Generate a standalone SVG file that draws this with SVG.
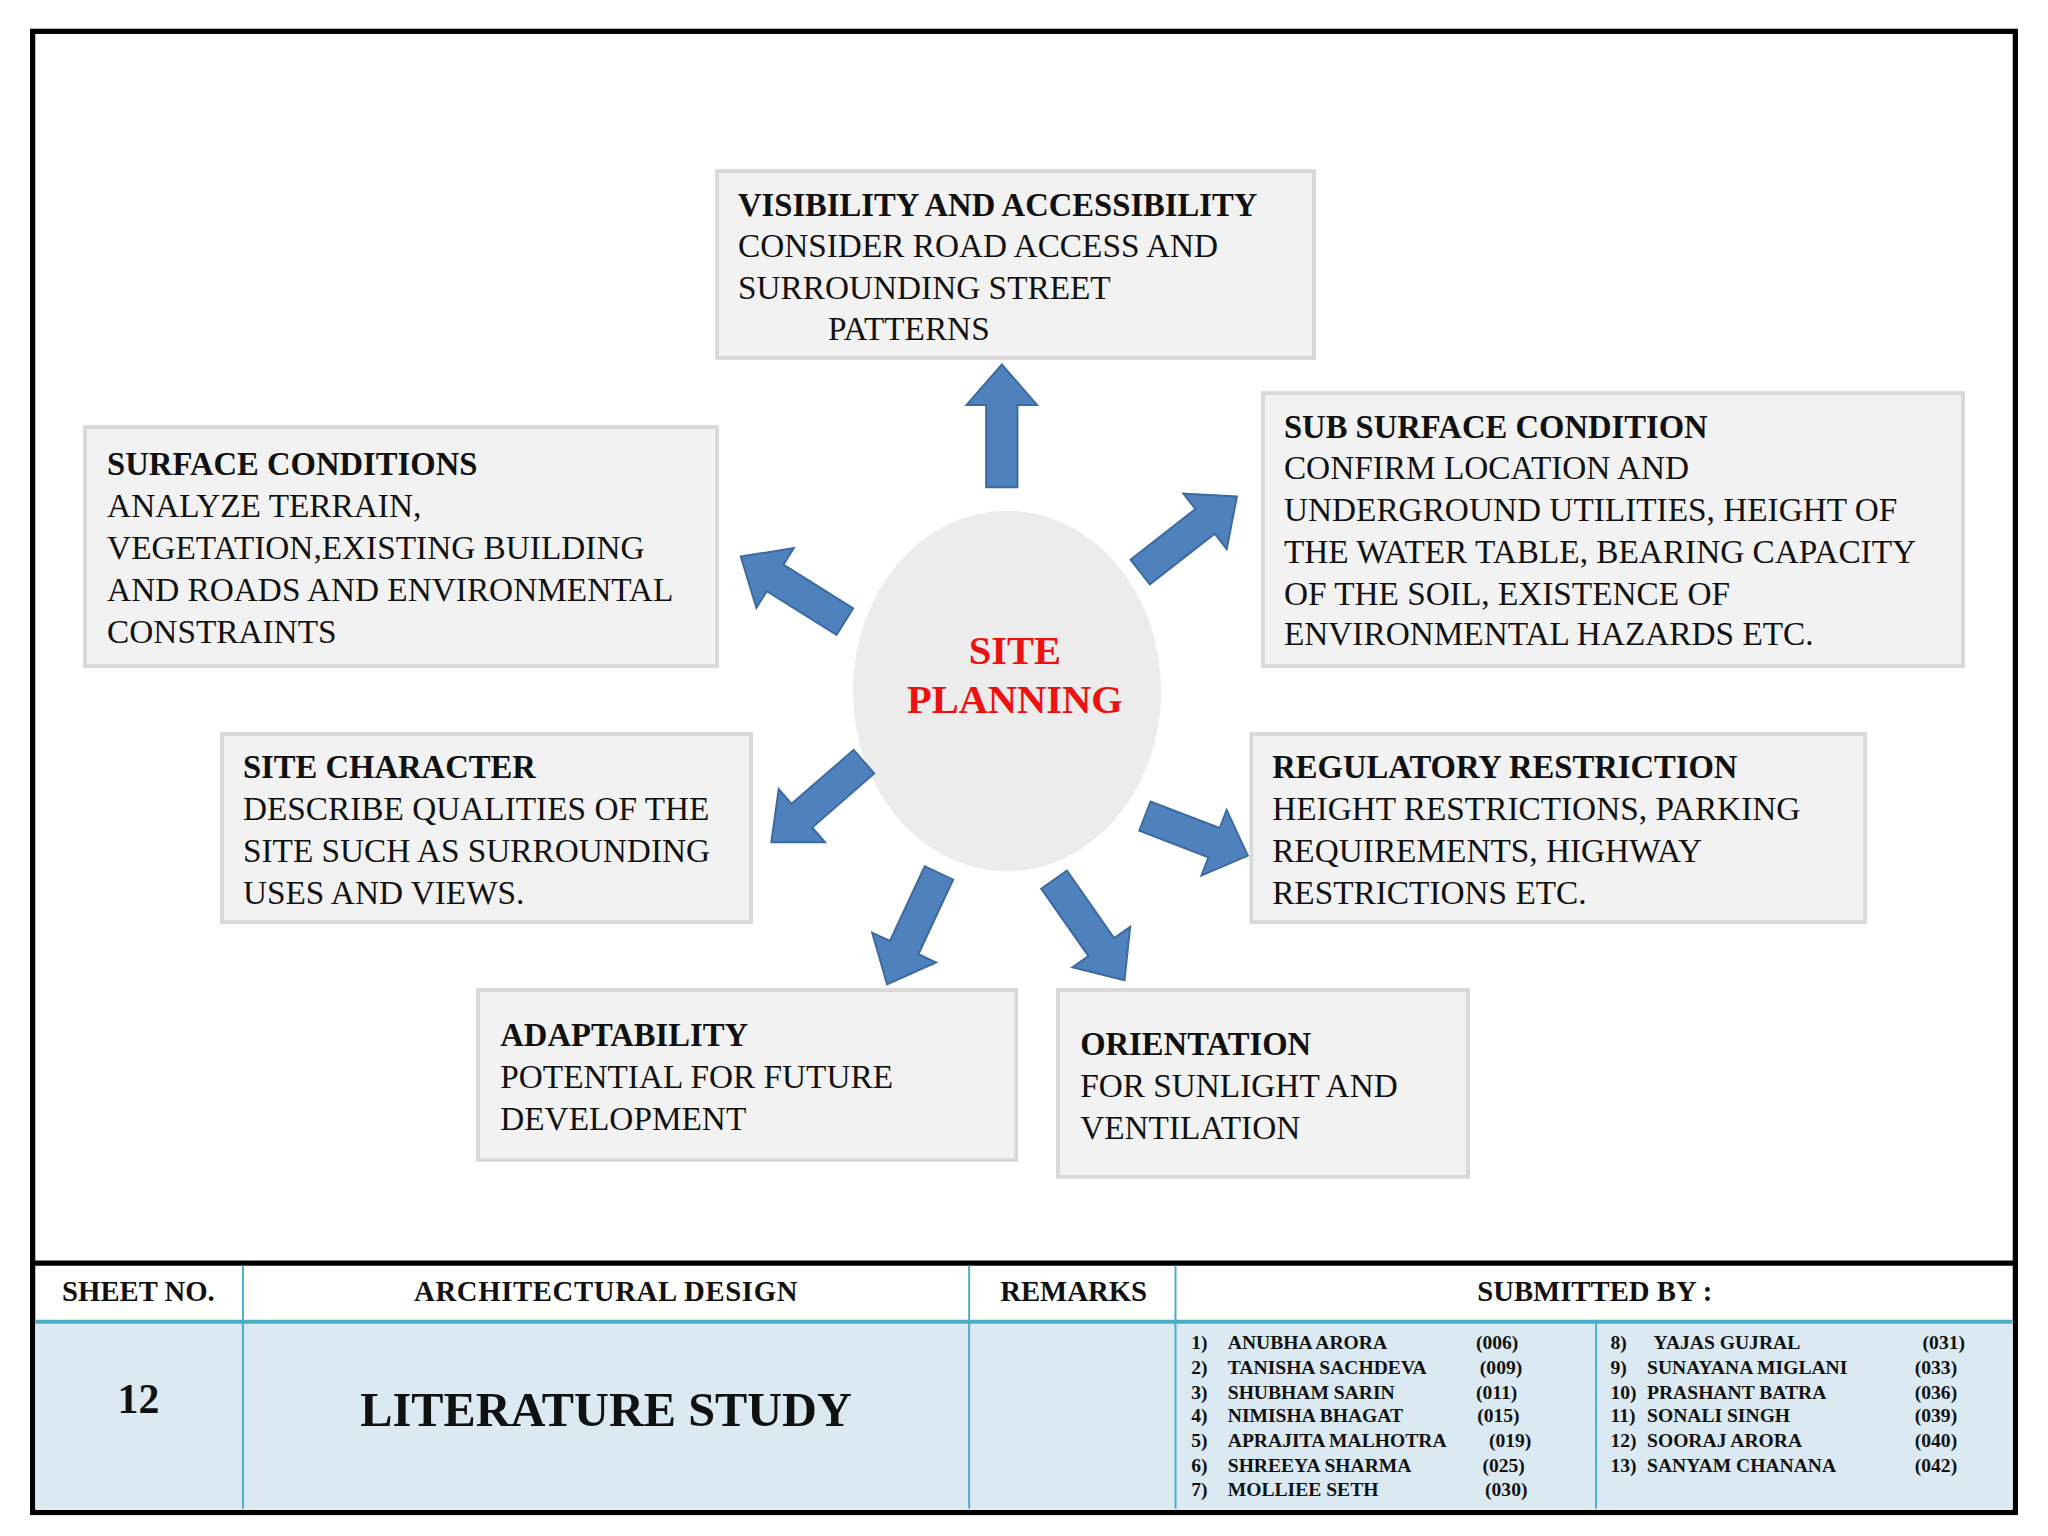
<svg xmlns="http://www.w3.org/2000/svg" xmlns:xlink="http://www.w3.org/1999/xlink" width="2048" height="1536" viewBox="0 0 2048 1536">
<style>
.box{fill:#f2f2f2;stroke:#d9d9d9;stroke-width:3}
.t{font-family:"Liberation Serif",serif;font-size:25.5px;fill:#111}
.h{font-weight:bold;font-size:25px}
.th{font-family:"Liberation Serif",serif;font-size:22px;font-weight:bold;fill:#111;text-anchor:middle}
.n{font-family:"Liberation Serif",serif;font-size:15px;font-weight:bold;fill:#111}
.arr{fill:#4f81bd;stroke:#3b6aa3;stroke-width:1.5}
</style>
<defs>
<polygon id="ar" points="0,-47 27,-16 12,-16 12,47 -12,47 -12,-16 -27,-16"/>
</defs>
<rect width="2048" height="1536" fill="#fff"/>
<g transform="scale(1.30612)">
<rect x="25" y="24" width="1518" height="1134" fill="#fff" stroke="#000" stroke-width="4"/>
<g id="table">
<rect x="27" y="1012" width="1514" height="143" fill="#dbeaf2"/>
<line x1="25" y1="967" x2="1543" y2="967" stroke="#000" stroke-width="4"/>
<line x1="27" y1="1012" x2="1541" y2="1012" stroke="#4bacc6" stroke-width="3"/>
<g stroke="#4bacc6" stroke-width="1.5">
<line x1="186" y1="969" x2="186" y2="1155"/><line x1="742" y1="969" x2="742" y2="1155"/><line x1="900" y1="969" x2="900" y2="1155"/><line x1="1222" y1="1013" x2="1222" y2="1155"/>
</g>
<text class="th" x="106" y="996">SHEET NO.</text>
<text class="th" x="464" y="996" style="letter-spacing:0.5px">ARCHITECTURAL DESIGN</text>
<text class="th" x="822" y="996">REMARKS</text>
<text class="th" x="1221" y="996">SUBMITTED BY :</text>
<text class="th" x="106" y="1082" style="font-size:32px">12</text>
<text class="th" x="464" y="1092" style="font-size:37px">LITERATURE STUDY</text>
<g class="n">
<text x="912" y="1033">1)</text><text x="940" y="1033">ANUBHA ARORA</text><text x="1130" y="1033">(006)</text>
<text x="912" y="1052">2)</text><text x="940" y="1052">TANISHA SACHDEVA</text><text x="1133" y="1052">(009)</text>
<text x="912" y="1071">3)</text><text x="940" y="1071">SHUBHAM SARIN</text><text x="1130" y="1071">(011)</text>
<text x="912" y="1089">4)</text><text x="940" y="1089">NIMISHA BHAGAT</text><text x="1131" y="1089">(015)</text>
<text x="912" y="1108">5)</text><text x="940" y="1108">APRAJITA MALHOTRA</text><text x="1140" y="1108">(019)</text>
<text x="912" y="1127">6)</text><text x="940" y="1127">SHREEYA SHARMA</text><text x="1135" y="1127">(025)</text>
<text x="912" y="1145">7)</text><text x="940" y="1145">MOLLIEE SETH</text><text x="1137" y="1145">(030)</text>
<text x="1233" y="1033">8)</text><text x="1266" y="1033">YAJAS GUJRAL</text><text x="1472" y="1033">(031)</text>
<text x="1233" y="1052">9)</text><text x="1261" y="1052">SUNAYANA MIGLANI</text><text x="1466" y="1052">(033)</text>
<text x="1233" y="1071">10)</text><text x="1261" y="1071">PRASHANT BATRA</text><text x="1466" y="1071">(036)</text>
<text x="1233" y="1089">11)</text><text x="1261" y="1089">SONALI SINGH</text><text x="1466" y="1089">(039)</text>
<text x="1233" y="1108">12)</text><text x="1261" y="1108">SOORAJ ARORA</text><text x="1466" y="1108">(040)</text>
<text x="1233" y="1127">13)</text><text x="1261" y="1127">SANYAM CHANANA</text><text x="1466" y="1127">(042)</text>
</g>
</g>
<g id="center">
<ellipse cx="771" cy="529" rx="118" ry="138" fill="#ececec"/>
<text x="777" y="508" text-anchor="middle" style="font-family:'Liberation Serif',serif;font-size:31px;font-weight:bold;fill:#ee1111">SITE</text>
<text x="777" y="546" text-anchor="middle" style="font-family:'Liberation Serif',serif;font-size:31px;font-weight:bold;fill:#ee1111">PLANNING</text>
</g>
<g id="connectors" class="arr">
<use xlink:href="#ar" transform="translate(767,326)"/>
<use xlink:href="#ar" transform="translate(910,409) rotate(52)"/>
<use xlink:href="#ar" transform="translate(607,451) rotate(-58)"/>
<use xlink:href="#ar" transform="translate(626,614) rotate(-131)"/>
<use xlink:href="#ar" transform="translate(916,640) rotate(111) scale(1,0.9)"/>
<use xlink:href="#ar" transform="translate(699,711) rotate(-155)"/>
<use xlink:href="#ar" transform="translate(834,712) rotate(145)"/>
</g>
<g id="visibility"><rect class="box" x="549" y="131" width="457" height="143"/>
<text class="t h" x="565" y="165">VISIBILITY AND ACCESSIBILITY</text>
<text class="t" x="565" y="197">CONSIDER ROAD ACCESS AND</text>
<text class="t" x="565" y="229">SURROUNDING STREET</text>
<text class="t" x="634" y="260">PATTERNS</text></g>
<g id="surface"><rect class="box" x="65" y="327" width="484" height="183"/>
<text class="t h" x="82" y="364">SURFACE CONDITIONS</text>
<text class="t" x="82" y="396">ANALYZE TERRAIN,</text>
<text class="t" x="82" y="428">VEGETATION,EXISTING BUILDING</text>
<text class="t" x="82" y="460">AND ROADS AND ENVIRONMENTAL</text>
<text class="t" x="82" y="492">CONSTRAINTS</text></g>
<g id="subsurface"><rect class="box" x="967" y="301" width="536" height="209"/>
<text class="t h" x="983" y="335">SUB SURFACE CONDITION</text>
<text class="t" x="983" y="367">CONFIRM LOCATION AND</text>
<text class="t" x="983" y="399">UNDERGROUND UTILITIES, HEIGHT OF</text>
<text class="t" x="983" y="431">THE WATER TABLE, BEARING CAPACITY</text>
<text class="t" x="983" y="463">OF THE SOIL, EXISTENCE OF</text>
<text class="t" x="983" y="494">ENVIRONMENTAL HAZARDS ETC.</text></g>
<g id="sitechar"><rect class="box" x="170" y="562" width="405" height="144"/>
<text class="t h" x="186" y="596">SITE CHARACTER</text>
<text class="t" x="186" y="628">DESCRIBE QUALITIES OF THE</text>
<text class="t" x="186" y="660">SITE SUCH AS SURROUNDING</text>
<text class="t" x="186" y="692">USES AND VIEWS.</text></g>
<g id="regulatory"><rect class="box" x="958" y="562" width="470" height="144"/>
<text class="t h" x="974" y="596">REGULATORY RESTRICTION</text>
<text class="t" x="974" y="628">HEIGHT RESTRICTIONS, PARKING</text>
<text class="t" x="974" y="660">REQUIREMENTS, HIGHWAY</text>
<text class="t" x="974" y="692">RESTRICTIONS ETC.</text></g>
<g id="adaptability"><rect class="box" x="366" y="758" width="412" height="130"/>
<text class="t h" x="383" y="801">ADAPTABILITY</text>
<text class="t" x="383" y="833">POTENTIAL FOR FUTURE</text>
<text class="t" x="383" y="865">DEVELOPMENT</text></g>
<g id="orientation"><rect class="box" x="810" y="758" width="314" height="143"/>
<text class="t h" x="827" y="808">ORIENTATION</text>
<text class="t" x="827" y="840">FOR SUNLIGHT AND</text>
<text class="t" x="827" y="872">VENTILATION</text></g>
</g>
</svg>
